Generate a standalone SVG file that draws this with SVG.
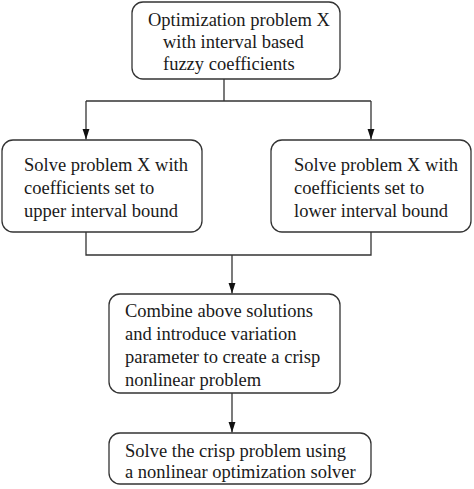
<svg xmlns="http://www.w3.org/2000/svg" width="474" height="489" viewBox="0 0 474 489">
<defs>
<marker id="arr" markerUnits="userSpaceOnUse" markerWidth="12" markerHeight="8" refX="11" refY="3.6" orient="auto">
<path d="M0,0 L11,3.6 L0,7.2 Z" fill="#111"/>
</marker>
</defs>
<style>
.box{fill:#fff;stroke:#333;stroke-width:1.3}
.t{font-family:"Liberation Serif","Times New Roman",serif;font-size:18.5px;fill:#1a1a1a}
.c{fill:none;stroke:#333;stroke-width:1.3}
</style>
<rect width="474" height="489" fill="#fff"/>
<g id="connectors">
<path class="c" d="M224 79 V101 M86 101 H371"/>
<path class="c" d="M86 101 V139.5" marker-end="url(#arr)"/>
<path class="c" d="M371 101 V139.5" marker-end="url(#arr)"/>
<path class="c" d="M86 232 V255 H371 V232"/>
<path class="c" d="M232 255 V293.5" marker-end="url(#arr)"/>
<path class="c" d="M232 393 V432.5" marker-end="url(#arr)"/>
</g>
<g id="node-top">
<rect class="box" x="132" y="2" width="208" height="77" rx="11"/>
<text class="t" x="148" y="26">Optimization problem X</text>
<text class="t" x="163" y="48">with interval based</text>
<text class="t" x="163" y="70">fuzzy coefficients</text>
</g>
<g id="node-upper">
<rect class="box" x="2" y="140" width="200" height="92" rx="11"/>
<text class="t" x="24" y="171">Solve problem X with</text>
<text class="t" x="24" y="194">coefficients set to</text>
<text class="t" x="24" y="217">upper interval bound</text>
</g>
<g id="node-lower">
<rect class="box" x="271" y="140" width="200" height="92" rx="11"/>
<text class="t" x="294" y="171">Solve problem X with</text>
<text class="t" x="294" y="194">coefficients set to</text>
<text class="t" x="294" y="217">lower interval bound</text>
</g>
<g id="node-combine">
<rect class="box" x="109" y="294" width="231" height="99" rx="11"/>
<text class="t" x="125" y="317">Combine above solutions</text>
<text class="t" x="125" y="340">and introduce variation</text>
<text class="t" x="125" y="363">parameter to create a crisp</text>
<text class="t" x="125" y="386">nonlinear problem</text>
</g>
<g id="node-solve">
<rect class="box" x="109" y="433" width="262" height="51" rx="11"/>
<text class="t" x="125" y="457">Solve the crisp problem using</text>
<text class="t" x="125" y="478">a nonlinear optimization solver</text>
</g>
</svg>
